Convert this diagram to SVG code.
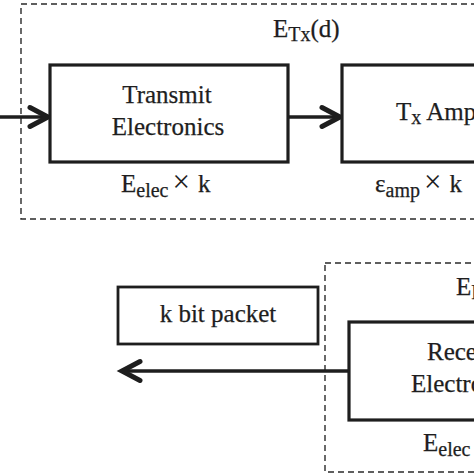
<svg xmlns="http://www.w3.org/2000/svg" width="474" height="474" viewBox="0 0 474 474">
<defs>
<style>
.dash{fill:none;stroke:#2a2a2a;stroke-width:1.4;stroke-dasharray:6 4}
.box{fill:#fff;stroke:#1e1e1e;stroke-width:3.2}
.conn{fill:none;stroke:#1e1e1e;stroke-width:3.4}
.t{font-family:"Liberation Serif","Times New Roman",serif;font-size:25px;fill:#1e1e1e;stroke:#1e1e1e;stroke-width:0.25}
.s{font-size:20px}
.x{font-size:31px;stroke-width:0}
</style>
<marker id="chev" markerUnits="userSpaceOnUse" markerWidth="30" markerHeight="30" viewBox="-24 -15 30 30" refX="0" refY="0" orient="auto">
<path d="M-18,-9.5 L0,0 L-18,9.5" fill="none" stroke="#1e1e1e" stroke-width="5" stroke-linecap="round" stroke-linejoin="miter"/>
</marker>
</defs>
<rect width="474" height="474" fill="#fff"/>
<g id="tx-group">
<rect class="dash" x="21" y="4" width="520" height="215"/>
<text class="t" x="273" y="37">E<tspan class="s" dy="4">Tx</tspan><tspan dy="-4">(d)</tspan></text>
</g>
<g id="rx-group">
<rect class="dash" x="325" y="263" width="220" height="209"/>
<text class="t" x="456" y="295">E<tspan class="s" dy="4">Rx</tspan><tspan dy="-4">(d)</tspan></text>
</g>
<g id="connectors">
<line class="conn" x1="0" y1="117" x2="48" y2="117" marker-end="url(#chev)"/>
<line class="conn" x1="288" y1="117" x2="340" y2="117" marker-end="url(#chev)"/>
<line class="conn" x1="349" y1="371" x2="122" y2="371" marker-end="url(#chev)"/>
</g>
<g id="transmit-electronics">
<rect class="box" x="50" y="65" width="238" height="97"/>
<text class="t" x="167" y="103" text-anchor="middle">Transmit</text>
<text class="t" x="168" y="135" text-anchor="middle">Electronics</text>
<text class="t" x="121" y="192">E<tspan class="s" dy="5">elec</tspan><tspan class="x" dy="-5" dx="4">×</tspan><tspan dx="8">k</tspan></text>
</g>
<g id="tx-amplifier">
<rect class="box" x="342" y="65" width="238" height="97"/>
<text class="t" x="396" y="120">T<tspan class="s" dy="4">x</tspan><tspan dy="-4"> Amplifier</tspan></text>
<text class="t" x="375" y="192">ε<tspan class="s" dy="5">amp</tspan><tspan class="x" dy="-5" dx="4">×</tspan><tspan dx="8">k</tspan></text>
</g>
<g id="k-bit-packet">
<rect class="box" x="118" y="287" width="200" height="57" style="stroke-width:2.8"/>
<text class="t" x="218" y="322" text-anchor="middle">k bit packet</text>
</g>
<g id="receive-electronics">
<rect class="box" x="349" y="322" width="238" height="98"/>
<text class="t" x="427" y="360">Receive</text>
<text class="t" x="411" y="392">Electronics</text>
<text class="t" x="423" y="451">E<tspan class="s" dy="5">elec</tspan><tspan class="x" dy="-5" dx="4">×</tspan><tspan dx="8">k</tspan></text>
</g>
</svg>
